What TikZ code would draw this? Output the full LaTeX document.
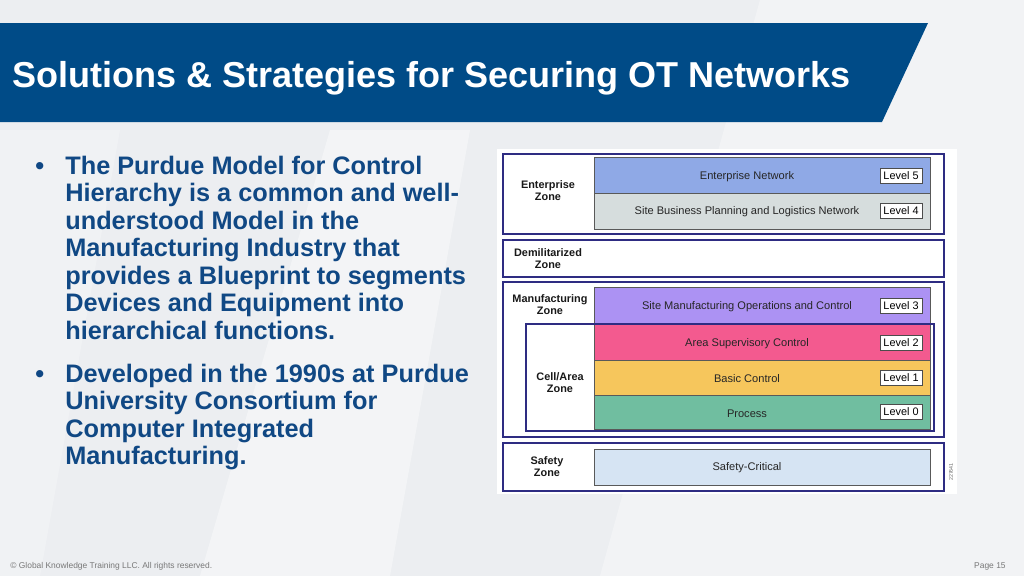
\documentclass[tikz,border=0pt]{standalone}
\usepackage{fontspec}
\setmainfont{Liberation Sans}
\definecolor{bgc}{RGB}{236,238,241}
\definecolor{banner}{RGB}{0,75,135}
\definecolor{btxt}{RGB}{16,72,132}
\definecolor{zoneblue}{RGB}{46,44,130}
\definecolor{lvfive}{RGB}{143,169,230}
\definecolor{lvfour}{RGB}{214,221,221}
\definecolor{lvthree}{RGB}{172,146,243}
\definecolor{lvtwo}{RGB}{243,90,143}
\definecolor{lvone}{RGB}{246,198,92}
\definecolor{lvzero}{RGB}{112,190,160}
\definecolor{lvsafe}{RGB}{214,228,243}
\definecolor{footc}{RGB}{120,120,120}
\begin{document}
\begin{tikzpicture}[x=0.02cm,y=-0.02cm,
  zone/.style={draw=zoneblue,line width=1.1pt},
  bar/.style={draw=black!65,line width=0.5pt},
  tag/.style={draw=black!70,fill=white,line width=0.5pt,inner sep=0pt,
    minimum width={42*0.02cm},minimum height={15*0.02cm},font=\fontsize{6.2pt}{7pt}\selectfont},
  bartext/.style={font=\fontsize{6.3pt}{7.5pt}\selectfont,text=black!85},
  zonetext/.style={font=\fontsize{6.2pt}{6.8pt}\selectfont\bfseries,align=center,text=black!90},
  bullet/.style={anchor=base west,text=btxt,font=\fontsize{14.4pt}{15.6pt}\selectfont\bfseries,inner sep=0pt},
  foot/.style={text=footc,font=\fontsize{4.8pt}{5.5pt}\selectfont,inner sep=0pt}]
\useasboundingbox (0,0) rectangle (1024,576);
% background
\fill[bgc] (0,0) rectangle (1024,576);
\fill[white,opacity=0.4] (200,576) -- (330,130) -- (470,130) -- (390,576) -- cycle;
\fill[white,opacity=0.35] (600,576) -- (760,0) -- (1024,0) -- (1024,576) -- cycle;
\fill[white,opacity=0.25] (0,130) -- (120,130) -- (40,576) -- (0,576) -- cycle;
% banner
\fill[banner] (0,23) -- (928,23) -- (882,122) -- (0,122) -- cycle;
\node[anchor=base west,inner sep=0pt,text=white,font=\fontsize{20.5pt}{24pt}\selectfont\bfseries] (title) at (12,87) {Solutions \& Strategies for Securing OT Networks};
% bullets
\node[bullet] (b1) at (35,174) {•};
\node[bullet] (b2) at (35,382) {•};
\foreach \t/\y [count=\i] in {The Purdue Model for Control/174,
  Hierarchy is a common and well-/201.5,
  understood Model in the/229,
  Manufacturing Industry that/256.5,
  provides a Blueprint to segments/284,
  Devices and Equipment into/311.5,
  hierarchical functions./339,
  Developed in the 1990s at Purdue/382,
  University Consortium for/409.5,
  Computer Integrated/437,
  Manufacturing./464.5}
  \node[bullet] (line\i) at (65,\y) {\t};
% diagram background
\fill[white] (497,149) rectangle (957,494);
% zones
\draw[zone] (503,154) rectangle (944,234);
\draw[zone] (503,240) rectangle (944,277);
\draw[zone] (503,282) rectangle (944,437);
\draw[zone] (503,443) rectangle (944,491);
% bars
\draw[bar,fill=lvfive] (594,157) rectangle (930,193);
\draw[bar,fill=lvfour] (594,193) rectangle (930,229);
\draw[bar,fill=lvthree] (594,287) rectangle (930,324);
\draw[bar,fill=lvtwo] (594,324) rectangle (930,360);
\draw[bar,fill=lvone] (594,360) rectangle (930,395);
\draw[bar,fill=lvzero] (594,395) rectangle (930,429);
\draw[bar,fill=lvsafe] (594,449) rectangle (930,485);
% cell/area zone
\draw[zone] (526,324) rectangle (934,431);
% bar texts
\node[bartext] (t5) at (747,176.5) {Enterprise Network};
\node[bartext] (t4) at (747,212) {Site Business Planning and Logistics Network};
\node[bartext] (t3) at (747,306.5) {Site Manufacturing Operations and Control};
\node[bartext] (t2) at (747,343.5) {Area Supervisory Control};
\node[bartext] (t1) at (747,379) {Basic Control};
\node[bartext] (t0) at (747,413.5) {Process};
\node[bartext] (ts) at (747,468) {Safety-Critical};
% tags
\node[tag] (g5) at (901,175.5) {Level 5};
\node[tag] (g4) at (901,211) {Level 4};
\node[tag] (g3) at (901,305.5) {Level 3};
\node[tag] (g2) at (901,342.5) {Level 2};
\node[tag] (g1) at (901,377.5) {Level 1};
\node[tag] (g0) at (901,412) {Level 0};
% zone labels
\node[zonetext] (z1) at (548,191) {Enterprise\\Zone};
\node[zonetext] (z2) at (548,259) {Demilitarized\\Zone};
\node[zonetext] (z3) at (550,305) {Manufacturing\\Zone};
\node[zonetext] (z4) at (560,383) {Cell/Area\\Zone};
\node[zonetext] (z5) at (547,467) {Safety\\Zone};
\node[rotate=90,text=black!60,font=\fontsize{3pt}{3.5pt}\selectfont,inner sep=0pt] (code) at (951,472) {227641};
% footer
\node[foot,anchor=base west] (copy) at (10,568) {© Global Knowledge Training LLC. All rights reserved.};
\node[foot,anchor=base east] (page) at (1006,568) {Page 15};
\end{tikzpicture}
\end{document}
